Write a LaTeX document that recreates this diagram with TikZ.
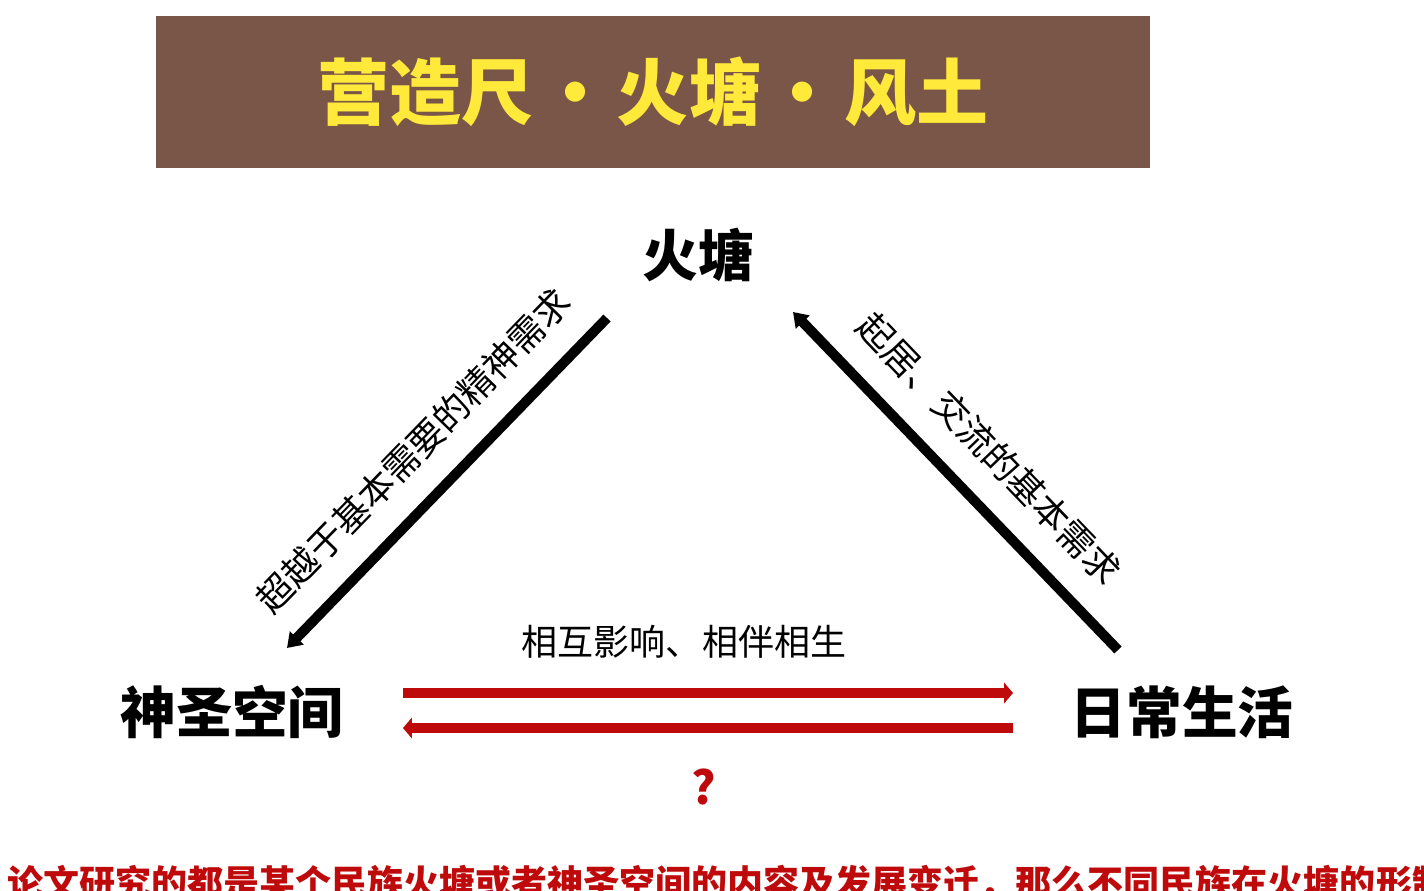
\documentclass[tikz,border=0pt]{standalone}
\usepackage{fontspec}
\setmainfont{Noto Sans CJK SC}
\usetikzlibrary{arrows.meta,positioning}

\definecolor{titlebrown}{HTML}{7A5648}
\definecolor{titleyellow}{HTML}{FFE93A}
\definecolor{darkred}{HTML}{BE0A0A}

\newcommand{\titledot}{\kern0.08em·\kern0.08em}

\begin{document}
\begin{tikzpicture}[%
    x=0.02cm, y=-0.02cm,
    titlebox/.style={fill=titlebrown, minimum width=19.88cm, minimum height=3.04cm,
      text=titleyellow, font=\bfseries\fontsize{41}{46}\selectfont},
    pole/.style={font=\bfseries\fontsize{31.7}{36}\selectfont},
    note/.style={font=\fontsize{20.5}{24}\selectfont},
    blackarrow/.style={line width=5.7pt, -{Triangle[length=8pt,width=10.5pt]}},
    redarrow/.style={draw=darkred, line width=6.2pt, -{Triangle[length=5pt,width=11.5pt]}},
  ]
    \useasboundingbox (0,0) rectangle (1424,890);
    \clip (0,0) rectangle (1424,890);

    \node[titlebox] (title) at (653,92) {营造尺\titledot 火塘\titledot 风土};

    \node[pole] (huo)  at (698,255)  {火塘};
    \node[pole] (shen) at (232,712)  {神圣空间};
    \node[pole] (ri)   at (1182,712) {日常生活};

    % arrow ends
    \coordinate (huo-l)  at (607,318);
    \coordinate (shen-t) at (287,648);
    \coordinate (ri-t)   at (1118,650);
    \coordinate (huo-r)  at (793,312);
    \coordinate (shen-a) at (403,693);
    \coordinate (ri-a)   at (1013,693);
    \coordinate (ri-b)   at (1013,728);
    \coordinate (shen-b) at (403,728);

    \path
    (huo-l) edge[blackarrow] node[note, sloped, above=0.5cm, inner sep=0pt] {超越于基本需要的精神需求} (shen-t)
    (ri-t)  edge[blackarrow] node[note, sloped, above=0.5cm, inner sep=0pt] {起居、交流的基本需求} (huo-r)
    (shen-a) edge[redarrow] (ri-a)
    (ri-b)   edge[redarrow] (shen-b)
    ;

    \node[note] (link) at (684,642) {相互影响、相伴相生};
    \node[text=darkred, font=\bfseries\fontsize{26}{30}\selectfont] (ask) at (704,787) {?};

    \node[anchor=west, text=darkred, inner sep=0pt, font=\bfseries\fontsize{20.5}{24}\selectfont] (remark) at (7,884)
      {论文研究的都是某个民族火塘或者神圣空间的内容及发展变迁，那么不同民族在火塘的形制};
  \end{tikzpicture}
\end{document}
